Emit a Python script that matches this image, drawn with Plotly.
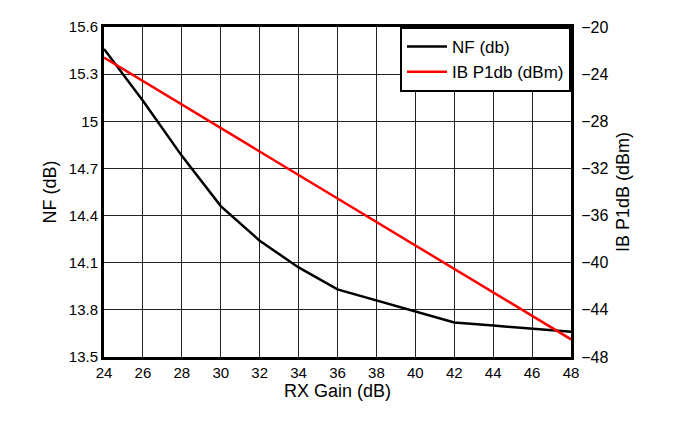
import plotly.graph_objects as go

gain = [24, 26, 28, 30, 32, 34, 36, 38, 40, 42, 44, 46, 48]
nf_db = [15.46, 15.13, 14.78, 14.46, 14.24, 14.07, 13.93, 13.86, 13.79, 13.72, 13.70, 13.68, 13.66]
p1db_gain = [24, 48]
p1db_dbm = [-22.6, -46.5]

left_ticks = [13.5, 13.8, 14.1, 14.4, 14.7, 15.0, 15.3, 15.6]
left_labels = ["13.5", "13.8", "14.1", "14.4", "14.7", "15", "15.3", "15.6"]
right_ticks = [-48, -44, -40, -36, -32, -28, -24, -20]
right_labels = ["\u221248", "\u221244", "\u221240", "\u221236", "\u221232", "\u221228", "\u221224", "\u221220"]
x_ticks = [24, 26, 28, 30, 32, 34, 36, 38, 40, 42, 44, 46, 48]

font = "Liberation Sans, Arial, sans-serif"

fig = go.Figure()
fig.add_trace(go.Scatter(x=gain, y=nf_db, mode="lines", name="NF (db)",
                         line=dict(color="black", width=2.5)))
fig.add_trace(go.Scatter(x=p1db_gain, y=p1db_dbm, mode="lines", name="IB P1db (dBm)",
                         line=dict(color="#ff0000", width=2.5), yaxis="y2"))

fig.update_layout(
    width=692, height=421,
    margin=dict(l=104, r=121, t=27, b=64),
    paper_bgcolor="white", plot_bgcolor="white",
    font=dict(family=font, size=15, color="black"),
    showlegend=True,
    legend=dict(x=1, y=1, xanchor="right", yanchor="top",
                bordercolor="black", borderwidth=2, bgcolor="white",
                font=dict(size=17), tracegroupgap=0, itemwidth=40),
    xaxis=dict(range=[24, 48], tickvals=x_ticks, showgrid=True,
               gridcolor="#222", gridwidth=1, showline=True, linecolor="black",
               linewidth=3, mirror=True, ticks="", zeroline=False,
               title=dict(text="RX Gain (dB)", standoff=4), tickfont=dict(size=15)),
    yaxis=dict(range=[13.5, 15.6], tickvals=left_ticks, ticktext=left_labels,
               showgrid=True, gridcolor="#222", gridwidth=1, showline=True,
               linecolor="black", linewidth=3, mirror=True, ticks="", zeroline=False,
               title=dict(text="NF (dB)", standoff=8), tickfont=dict(size=15)),
    yaxis2=dict(range=[-48, -20], tickvals=right_ticks, ticktext=right_labels,
                overlaying="y", side="right",
                showgrid=False, zeroline=False, ticks="outside", ticklen=6,
                tickcolor="rgba(0,0,0,0)", showline=False,
                title=dict(text="IB P1dB (dBm)", standoff=8), tickfont=dict(size=16)),
)

fig.write_html("out.html")
